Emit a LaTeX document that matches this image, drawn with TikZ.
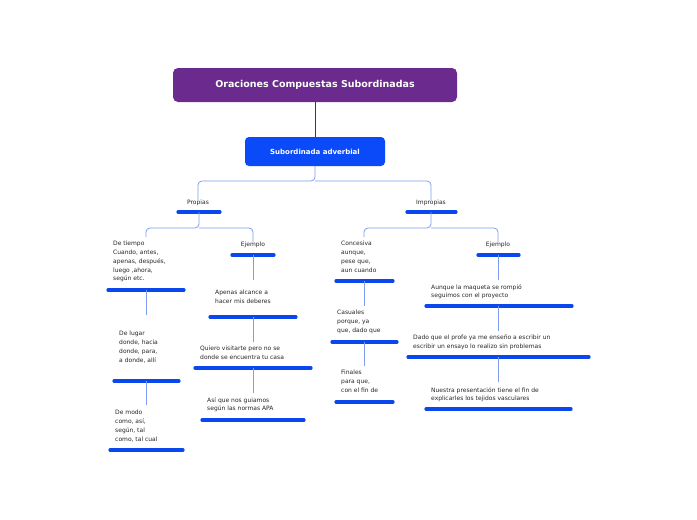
\documentclass[tikz,border=0pt]{standalone}
\usepackage{fontspec}
\setmainfont{DejaVu Sans}
\begin{document}
\begin{tikzpicture}[x=1pt,y=-1pt,
  conn/.style={draw=linkblue,line width=0.8pt,rounded corners=4pt},
  bar/.style={draw=barblue,line width=3.2pt,line cap=round},
  txt/.style={anchor=north west,inner sep=0pt,font=\fontsize{6}{8.8}\selectfont,align=left,text=black!85},
  ctxt/.style={inner sep=0pt,font=\fontsize{6}{8.8}\selectfont,text=black!85}]
\definecolor{linkblue}{HTML}{7E9DF2}
\definecolor{barblue}{HTML}{0A47EE}
\definecolor{titlep}{HTML}{6A2A8E}
\definecolor{subb}{HTML}{0A4AF8}
\useasboundingbox (0,0) rectangle (697,520);
% title
\node[fill=titlep,rounded corners=5pt,minimum width=284pt,minimum height=34pt,text=white,font=\fontsize{9.5}{11}\selectfont\bfseries] (title) at (315,85) {Oraciones Compuestas Subordinadas};
\node[fill=subb,rounded corners=4pt,minimum width=140pt,minimum height=29pt,text=white,font=\fontsize{7}{9}\selectfont\bfseries] (sub) at (315,151.5) {Subordinada adverbial};
\draw[draw=titlep!70!blue,line width=0.8pt] (title.south) -- (sub.north);
% level 1
\node[ctxt] (prop) at (198,203) {Propias};
\node[ctxt] (impr) at (431,203) {Impropias};
\coordinate (propb) at (199,212);
\coordinate (imprb) at (431,212);
\draw[bar] (178,212) -- (220,212);
\draw[bar] (407,212) -- (456,212);
\draw[conn] (sub.south) -- (315,181) -| (prop.north);
\draw[conn] (315,181) -| (impr.north);
% level 2 texts
\node[txt] (tiempo) at (113,241) {De tiempo\\Cuando, antes,\\apenas, después,\\luego ,ahora,\\según etc.};
\node[ctxt] (ej1) at (253,245) {Ejemplo};
\node[txt] (conc) at (341,241) {Concesiva\\aunque,\\pese que,\\aun cuando};
\node[ctxt] (ej2) at (498,245) {Ejemplo};
\draw[conn] (propb) -- (199,228) -| (146,237);
\draw[conn] (199,228) -| (ej1.north);
\draw[conn] (imprb) -- (431,228) -| (364,237);
\draw[conn] (431,228) -| (ej2.north);
\draw[bar] (108,290) -- (184,290);
\draw[bar] (232,255) -- (274,255);
\draw[bar] (336,281) -- (393,281);
\draw[bar] (478,255) -- (519,255);
% left column
\node[txt] (lugar) at (119,331) {De lugar\\donde, hacia\\donde, para,\\a donde, allí};
\node[txt] (modo) at (115,410) {De modo\\como, así,\\según, tal\\como, tal cual};
\draw[bar] (114,381) -- (179,381);
\draw[bar] (110,450) -- (183,450);
\draw[conn] (146,290) -- (146,315);
\draw[conn] (146,381) -- (146,405);
% ejemplo 1 column
\node[txt] (ap) at (215,290) {Apenas alcance a\\hacer mis deberes};
\node[txt] (qu) at (200,346) {Quiero visitarte pero no se\\donde se encuentra tu casa};
\node[txt] (asi) at (207,397) {Así que nos guiamos\\según las normas APA};
\draw[bar] (210,317) -- (296,317);
\draw[bar] (195,368) -- (311,368);
\draw[bar] (202,420) -- (304,420);
\draw[conn] (253,255) -- (253,280);
\draw[conn] (253,317) -- (253,342);
\draw[conn] (253,368) -- (253,393);
% impropias column
\node[txt] (cas) at (337,310) {Casuales\\porque, ya\\que, dado que};
\node[txt] (fin) at (341,370) {Finales\\para que,\\con el fin de};
\draw[bar] (332,342) -- (397,342);
\draw[bar] (336,402) -- (393,402);
\draw[conn] (364,281) -- (364,306);
\draw[conn] (364,342) -- (364,366);
% ejemplo 2 column
\node[txt] (aun) at (431,284) {Aunque la maqueta se rompió\\seguimos con el proyecto};
\node[txt] (dado) at (413,335) {Dado que el profe ya me enseño a escribir un\\escribir un ensayo lo realizo sin problemas};
\node[txt] (nue) at (431,387) {Nuestra presentación tiene el fin de\\explicarles los tejidos vasculares};
\draw[bar] (426,306) -- (572,306);
\draw[bar] (408,357) -- (589,357);
\draw[bar] (426,409) -- (571,409);
\draw[conn] (498,255) -- (498,280);
\draw[conn] (498,306) -- (498,331);
\draw[conn] (498,357) -- (498,382);
\end{tikzpicture}
\end{document}
